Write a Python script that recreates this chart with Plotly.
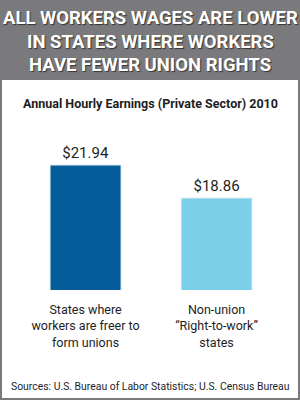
import plotly.graph_objects as go

# ---- data ----
categories = ["States where<br>workers are freer to<br>form unions",
              "Non-union<br>\u201cRight-to-work\u201d<br>states"]
earnings = [21.94, 18.86]
bar_colors = ["#045c9b", "#7bcfe9"]
title_lines = ["ALL WORKERS WAGES ARE LOWER",
               "IN STATES WHERE WORKERS",
               "HAVE FEWER UNION RIGHTS"]
subtitle = "Annual Hourly Earnings (Private Sector) 2010"
source = "Sources: U.S. Bureau of Labor Statistics; U.S. Census Bureau"

W, H = 300, 400
FONT = "Roboto, Liberation Sans, sans-serif"

def py(p):
    return 1 - p / H

def px(p):
    return p / W

fig = go.Figure()
fig.add_trace(go.Bar(
    x=[0, 1], y=earnings,
    width=0.542,
    marker=dict(color=bar_colors, line=dict(color="#e8eef2", width=1)),
    text=["$%.2f" % v for v in earnings],
    textposition="outside",
    textfont=dict(family=FONT, size=15, color="#1e1e1e"),
    cliponaxis=False,
    hoverinfo="skip",
))

annotations = []
for i, line in enumerate(title_lines):
    annotations.append(dict(
        text=line, x=0.5, y=py(18 + i * 23.5), xref="paper", yref="paper",
        showarrow=False, xanchor="center", yanchor="middle",
        font=dict(family=FONT, size=18.5, color="white", weight="bold",
                  shadow="1px 1px 1px #333"),
    ))
annotations.append(dict(
    text=subtitle, x=0.5, y=py(103), xref="paper", yref="paper",
    showarrow=False, xanchor="center", yanchor="middle",
    font=dict(family=FONT, size=12.5, color="#1e1e1e", weight="bold"),
))
annotations.append(dict(
    text=source, x=0.5, y=py(386), xref="paper", yref="paper",
    showarrow=False, xanchor="center", yanchor="middle",
    font=dict(family=FONT, size=10.4, color="#1e1e1e"),
))

fig.update_layout(
    width=W, height=H,
    margin=dict(l=0, r=0, t=0, b=0, autoexpand=False),
    paper_bgcolor="#7a7a7c",
    plot_bgcolor="rgba(0,0,0,0)",
    showlegend=False,
    annotations=annotations,
    shapes=[dict(type="rect", xref="paper", yref="paper",
                 x0=px(2), x1=px(298), y0=py(398), y1=py(80),
                 fillcolor="white", line=dict(width=0), layer="below")],
    xaxis=dict(domain=[0, 1], range=[-0.653, 1.637],
               tickmode="array", tickvals=[0, 1], ticktext=categories,
               ticks="outside", ticklen=8, tickcolor="rgba(0,0,0,0)",
               tickfont=dict(family=FONT, size=12.5, color="#1e1e1e"),
               showgrid=False, zeroline=False, showline=False, fixedrange=True),
    yaxis=dict(domain=[py(290), py(120)], range=[10.27, 26.14],
               visible=False, fixedrange=True),
)

fig.write_html("out.html")
